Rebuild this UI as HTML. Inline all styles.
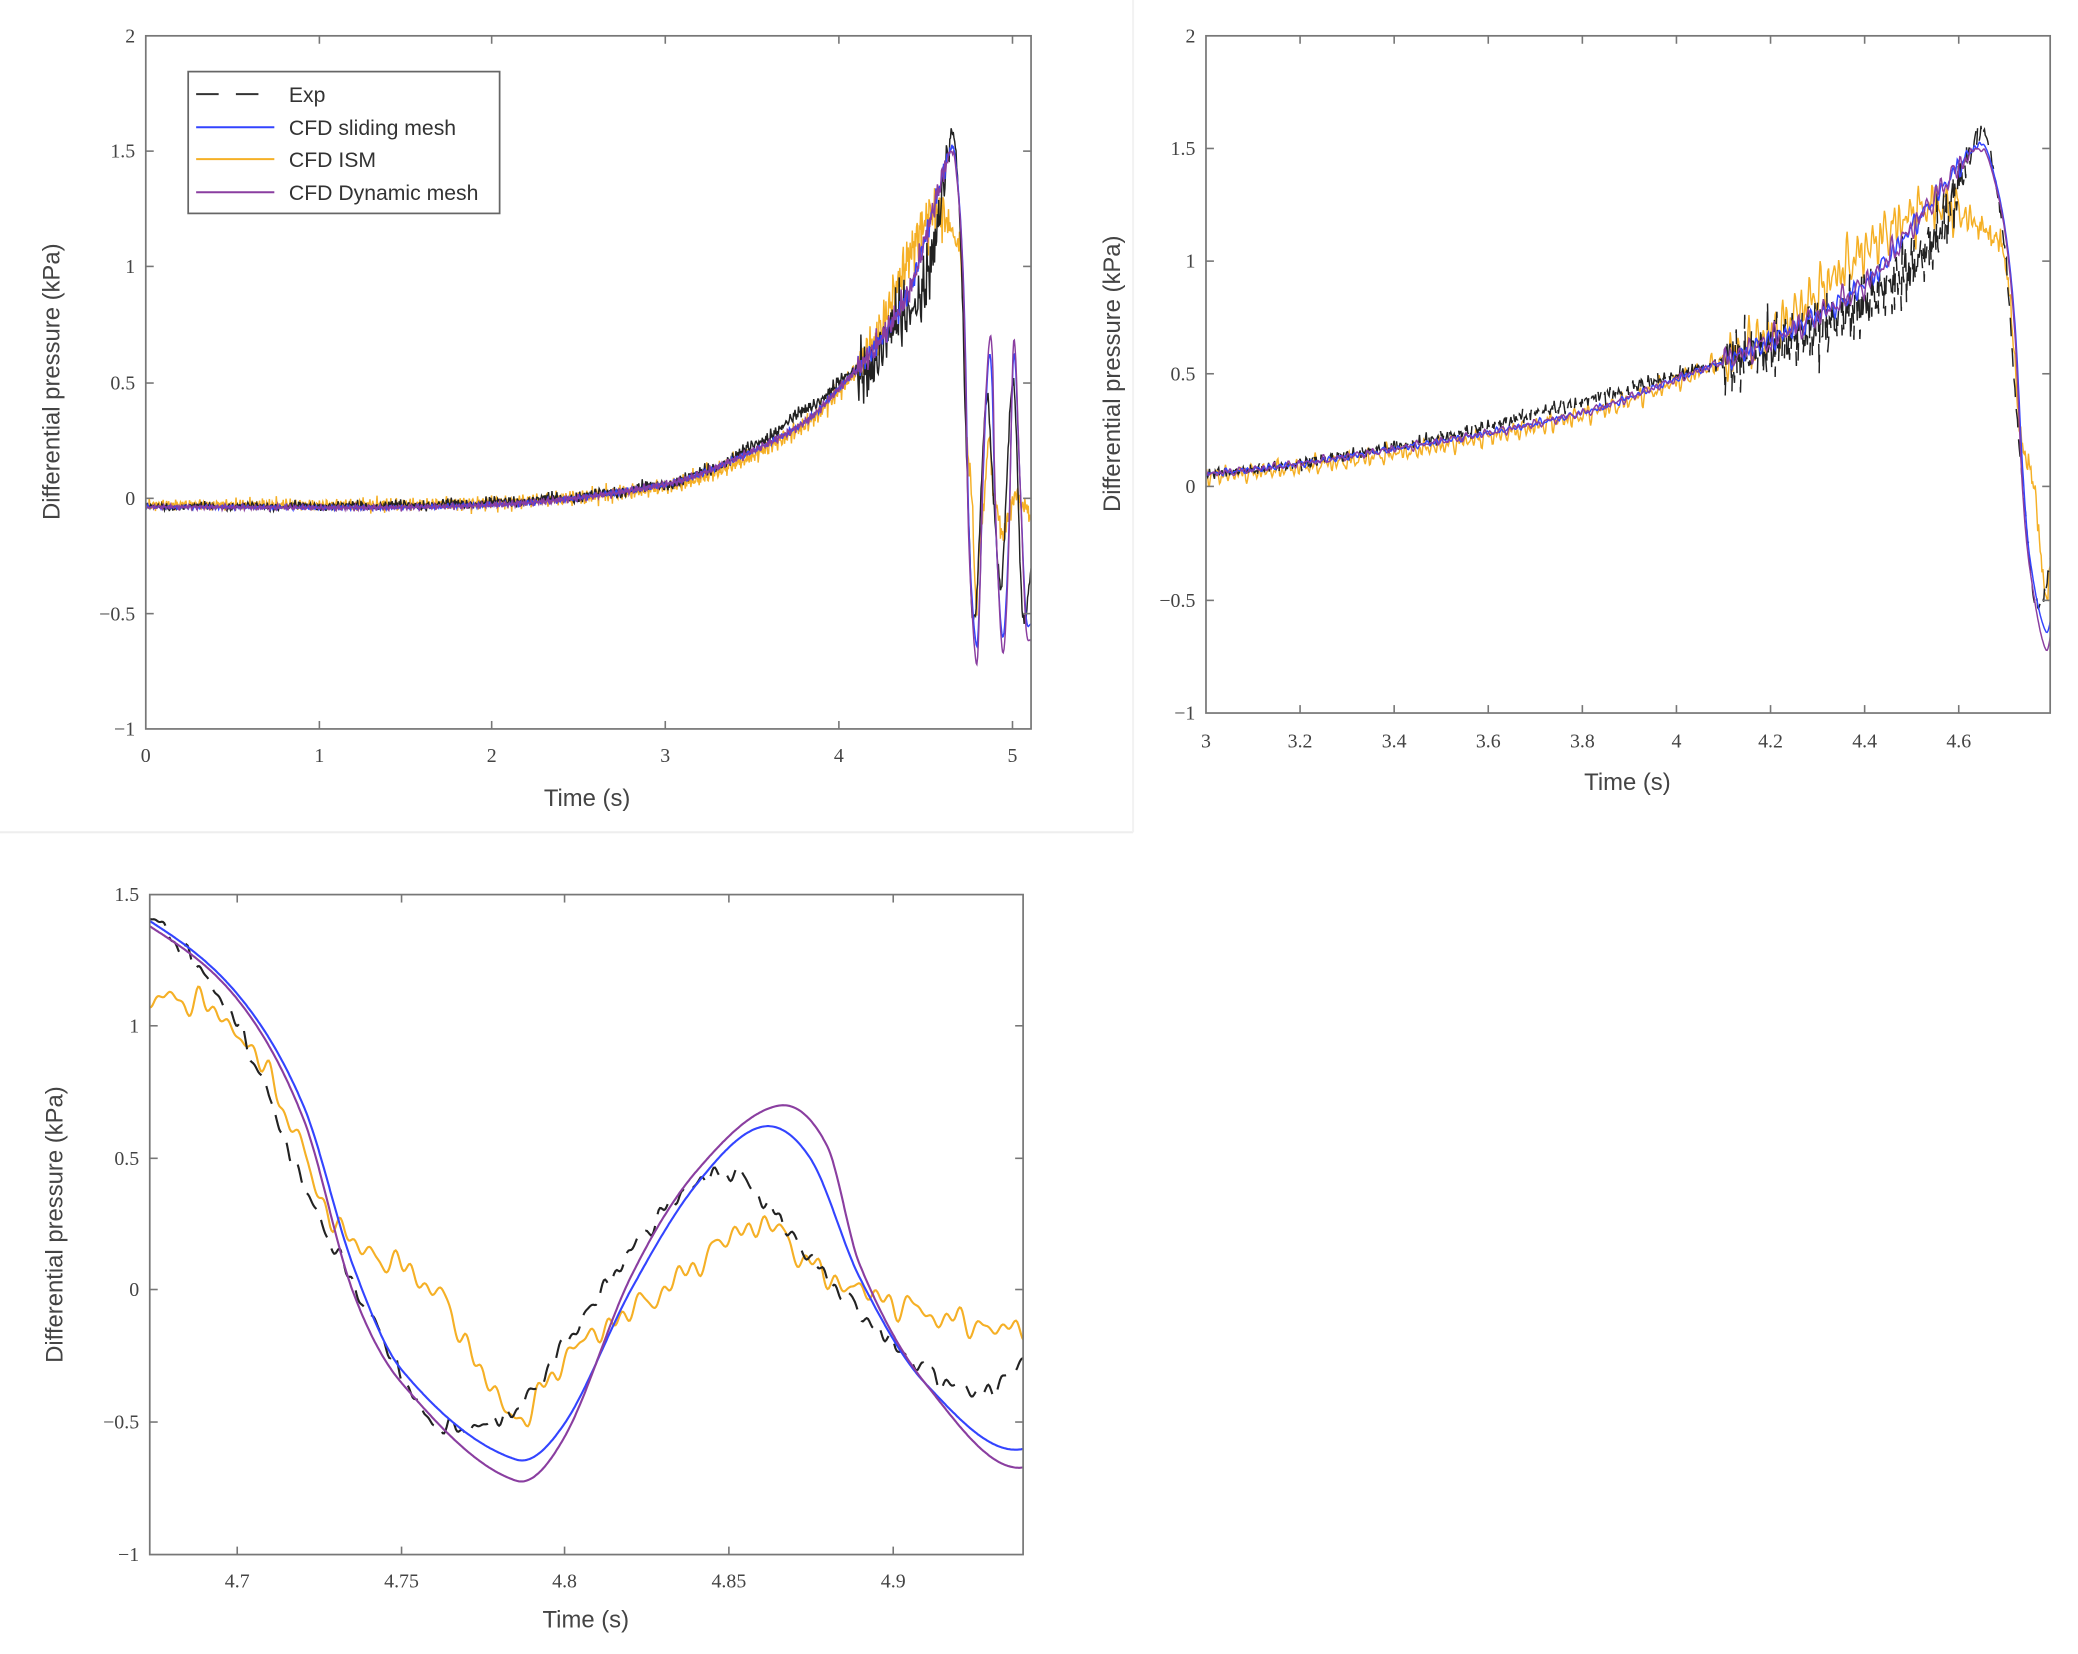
<!DOCTYPE html>
<html><head><meta charset="utf-8"><style>
html,body{margin:0;padding:0;background:#fff}
svg{display:block}
.tk{font-family:"Liberation Serif",serif;font-size:15px;fill:#444}
.lb{font-family:"Liberation Sans",sans-serif;font-size:18px;fill:#444}
.lg{font-family:"Liberation Sans",sans-serif;font-size:16px;fill:#333}
</style></head><body>
<svg id="s" width="2078" height="1654" viewBox="0 0 1568 1248" xmlns="http://www.w3.org/2000/svg">
<rect width="1568" height="1248" fill="#fff"/>
<line x1="0" y1="628" x2="855" y2="628" stroke="#eee" stroke-width="1.5"/>
<line x1="855" y1="0" x2="855" y2="628" stroke="#f2f2f2" stroke-width="1.5"/>
<defs>
<clipPath id="c1"><rect x="110" y="27" width="668" height="523"/></clipPath>
<clipPath id="c2"><rect x="910" y="27" width="637" height="511"/></clipPath>
<clipPath id="c3"><rect x="113" y="675" width="659" height="498"/></clipPath>
</defs>
<g id="g1" clip-path="url(#c1)"></g>
<g id="g2" clip-path="url(#c2)"></g>
<g id="g3" clip-path="url(#c3)"></g>
<g id="ax" stroke="#777" fill="none" stroke-width="1.3">
<rect x="110" y="27" width="668" height="523"/>
<rect x="910" y="27" width="637" height="511"/>
<rect x="113" y="675" width="659" height="498"/>
</g>
<g id="ticks" stroke="#777" stroke-width="1.2"></g>
<g class="tk" text-anchor="end">
<text x="102" y="32">2</text><text x="102" y="119">1.5</text><text x="102" y="206">1</text><text x="102" y="294">0.5</text><text x="102" y="381">0</text><text x="102" y="468">−0.5</text><text x="102" y="555">−1</text>
<text x="902" y="32">2</text><text x="902" y="117">1.5</text><text x="902" y="202">1</text><text x="902" y="287">0.5</text><text x="902" y="372">0</text><text x="902" y="458">−0.5</text><text x="902" y="543">−1</text>
<text x="105" y="680">1.5</text><text x="105" y="779">1</text><text x="105" y="879">0.5</text><text x="105" y="978">0</text><text x="105" y="1078">−0.5</text><text x="105" y="1178">−1</text>
</g>
<g class="tk" text-anchor="middle">
<text x="110" y="575">0</text><text x="241" y="575">1</text><text x="371" y="575">2</text><text x="502" y="575">3</text><text x="633" y="575">4</text><text x="764" y="575">5</text>
<text x="910" y="564">3</text><text x="981" y="564">3.2</text><text x="1052" y="564">3.4</text><text x="1123" y="564">3.6</text><text x="1194" y="564">3.8</text><text x="1265" y="564">4</text><text x="1336" y="564">4.2</text><text x="1407" y="564">4.4</text><text x="1478" y="564">4.6</text>
<text x="179" y="1198">4.7</text><text x="303" y="1198">4.75</text><text x="426" y="1198">4.8</text><text x="550" y="1198">4.85</text><text x="674" y="1198">4.9</text>
</g>
<g class="lb" text-anchor="middle">
<text x="443" y="608">Time (s)</text>
<text x="1228" y="596">Time (s)</text>
<text x="442" y="1228">Time (s)</text>
<text transform="translate(45,288) rotate(-90)">Differential  pressure (kPa)</text>
<text transform="translate(845,282) rotate(-90)">Differential  pressure (kPa)</text>
<text transform="translate(47,924) rotate(-90)">Differential  pressure (kPa)</text>
</g>
<g>
<rect x="142" y="54" width="235" height="107" fill="#fff" stroke="#666" stroke-width="1.3"/>
<line x1="148" y1="71" x2="207" y2="71" stroke="#333" stroke-width="1.5" stroke-dasharray="17,13"/>
<line x1="148" y1="96" x2="207" y2="96" stroke="#3344ff" stroke-width="1.5"/>
<line x1="148" y1="120" x2="207" y2="120" stroke="#f5b026" stroke-width="1.5"/>
<line x1="148" y1="145" x2="207" y2="145" stroke="#8a3ea0" stroke-width="1.5"/>
<text class="lg" x="218" y="77">Exp</text>
<text class="lg" x="218" y="102">CFD sliding mesh</text>
<text class="lg" x="218" y="126">CFD ISM</text>
<text class="lg" x="218" y="151">CFD Dynamic mesh</text>
</g>
</svg>
<script>
(function(){
var NS="http://www.w3.org/2000/svg";
function interp(P,t){
 var n=P.length;
 if(t<=P[0][0])return P[0][1];
 if(t>=P[n-1][0])return P[n-1][1];
 for(var i=1;i<n;i++){if(t<=P[i][0]){
  var a=P[i-1],b=P[i];var h=b[0]-a[0];var u=(t-a[0])/h;
  var pa=P[Math.max(i-2,0)],pb=P[Math.min(i+1,n-1)];
  var ma=(b[1]-pa[1])/(b[0]-pa[0]||1)*h, mb=(pb[1]-a[1])/(pb[0]-a[0]||1)*h;
  var u2=u*u,u3=u2*u;
  return (2*u3-3*u2+1)*a[1]+(u3-2*u2+u)*ma+(-2*u3+3*u2)*b[1]+(u3-u2)*mb;}}
}
var early=[[0,-0.04],[2,-0.03],[3,0.06],[3.4,0.17],[3.8,0.33],[4.0,0.48],[4.2,0.65],[4.4,0.9],[4.5,1.15],[4.6,1.42]];
var blue=early.concat([[4.65,1.52],[4.673,1.4],[4.7,1.12],[4.72,0.7],[4.735,0.1],[4.75,-0.3],[4.785,-0.64],[4.8,-0.5],[4.82,0],[4.84,0.4],[4.86,0.62],[4.875,0.5],[4.89,0.05],[4.91,-0.35],[4.94,-0.6],[4.97,-0.2],[5.0,0.62],[5.035,0.1],[5.07,-0.5],[5.1,-0.55]]);
var purp=early.concat([[4.65,1.5],[4.673,1.38],[4.7,1.1],[4.72,0.65],[4.735,0.0],[4.75,-0.35],[4.785,-0.72],[4.8,-0.55],[4.82,0.05],[4.84,0.45],[4.865,0.7],[4.88,0.55],[4.89,0.1],[4.91,-0.35],[4.94,-0.67],[4.97,-0.25],[5.0,0.68],[5.035,0.1],[5.07,-0.55],[5.1,-0.62]]);
var ism=[[0,-0.03],[2,-0.02],[3,0.05],[3.4,0.15],[3.8,0.32],[4.0,0.47],[4.2,0.68],[4.4,1.05],[4.55,1.25],[4.65,1.15],[4.673,1.1],[4.69,1.08],[4.71,0.8],[4.73,0.25],[4.76,0.0],[4.785,-0.48],[4.8,-0.25],[4.83,0],[4.86,0.25],[4.88,0.05],[4.94,-0.15],[5.0,0.0],[5.1,-0.08]];
var exp=[[0,-0.04],[2,-0.02],[3,0.06],[3.4,0.18],[3.8,0.38],[4.0,0.5],[4.2,0.62],[4.4,0.82],[4.55,1.1],[4.62,1.45],[4.65,1.58],[4.673,1.42],[4.7,1.0],[4.72,0.4],[4.745,-0.2],[4.76,-0.5],[4.785,-0.45],[4.8,-0.2],[4.83,0.3],[4.85,0.45],[4.86,0.35],[4.88,0.05],[4.91,-0.3],[4.93,-0.38],[4.94,-0.25],[5.0,0.5],[5.05,-0.5],[5.1,-0.3]];
function nz(t,s,fr){var v=0,F=[1,1.37,1.91,2.63,3.31];for(var k=0;k<5;k++)v+=Math.sin(2*Math.PI*fr*F[k]*t+s*1.7*(k+1));return v/2.5;}
function amp(t,a0,a1){var a;if(t<4.1)a=a0*(0.5+t/8);else a=a1;
 if(t>4.6){var u=Math.min(1,(t-4.6)/0.06);a*=1-u;}return a;}
var S={
 exp:{P:exp,f:function(t){return nz(t,1,150)*amp(t,0.025,0.12)+(t>4.66?nz(t,5,90)*0.025:0);},c:"#222",d:"14,9"},
 ism:{P:ism,f:function(t){return nz(t,2,38)*amp(t,0.035,0.09)+(t>4.64?nz(t,3,70)*0.04:0);},c:"#f5b026"},
 blue:{P:blue,f:function(t){return nz(t,3,33)*amp(t,0.012,0.035);},c:"#3344ff"},
 purp:{P:purp,f:function(t){return nz(t,4,29)*amp(t,0.015,0.045);},c:"#8a3ea0"}
};
var plots=[
 {g:"g1",x0:0,x1:5.1,px0:110,px1:778,y0:-1,y1:2,py0:550,py1:27,dt:0.004},
 {g:"g2",x0:3,x1:4.794,px0:910,px1:1547,y0:-1,y1:2,py0:538,py1:27,dt:0.0018},
 {g:"g3",x0:4.673,x1:4.94,px0:113,px1:772,y0:-1,y1:1.5,py0:1173,py1:675,dt:0.0004}
];
var order=["ism","exp","blue","purp"];
plots.forEach(function(p){
 var g=document.getElementById(p.g);
 order.forEach(function(k){
  var s=S[k],d="";
  for(var t=p.x0;t<=p.x1+p.dt;t+=p.dt){
   var v=interp(s.P,t)+s.f(t);
   var X=p.px0+(t-p.x0)/(p.x1-p.x0)*(p.px1-p.px0);
   var Y=p.py0+(v-p.y0)/(p.y1-p.y0)*(p.py1-p.py0);
   d+=(d?"L":"M")+X.toFixed(1)+" "+Y.toFixed(1);
  }
  var e=document.createElementNS(NS,"path");
  e.setAttribute("d",d);e.setAttribute("fill","none");e.setAttribute("stroke",s.c);
  e.setAttribute("stroke-width",p.g=="g3"?"1.6":"1.1");
  if(s.d&&p.g!="g1")e.setAttribute("stroke-dasharray",s.d);
  g.appendChild(e);
 });
});
var tg=document.getElementById("ticks");
function ln(a,b,c,d){var e=document.createElementNS(NS,"line");e.setAttribute("x1",a);e.setAttribute("y1",b);e.setAttribute("x2",c);e.setAttribute("y2",d);tg.appendChild(e);}
[241,371,502,633,764].forEach(function(x){ln(x,550,x,544);ln(x,27,x,33);});
[114,201,289,376,463].forEach(function(y){ln(110,y,116,y);ln(778,y,772,y);});
[981,1052,1123,1194,1265,1336,1407,1478].forEach(function(x){ln(x,538,x,532);ln(x,27,x,33);});
[112,197,282,367,453].forEach(function(y){ln(910,y,916,y);ln(1547,y,1541,y);});
[179,303,426,550,674].forEach(function(x){ln(x,1173,x,1167);ln(x,675,x,681);});
[774,874,973,1073].forEach(function(y){ln(113,y,119,y);ln(772,y,766,y);});
})();
</script>
</body></html>
